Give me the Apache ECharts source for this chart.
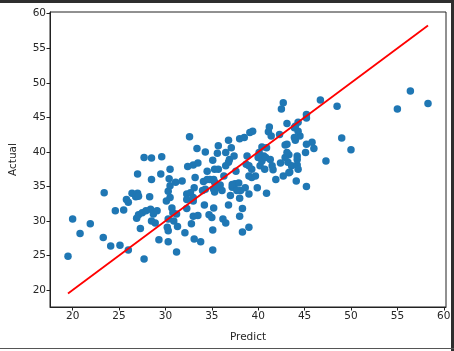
<!DOCTYPE html>
<html>
<head>
<meta charset="utf-8">
<script src="https://cdn.jsdelivr.net/npm/echarts@6/dist/echarts.min.js"></script>
<style>
  html, body { margin: 0; padding: 0; background: #fff; }
  #chart { position: absolute; left: 0; top: 0; width: 454px; height: 351px; }
  .edge { position: absolute; background: #2e2e2e; }
</style>
</head>
<body>
<div id="chart"></div>
<div class="edge" style="left:0;top:0;width:454px;height:3px;"></div>
<div class="edge" style="left:451px;top:0;width:3px;height:351px;"></div>
<div class="edge" style="left:0;top:348px;width:454px;height:1px;background:#555;"></div>
<script>
// predicted vs actual values
const predicted = [
  19.5, 20.0, 20.8, 21.9, 23.3, 23.4, 24.1, 24.6, 25.1, 25.5,
  25.8, 26.0, 26.0, 26.4, 26.8, 27.0, 27.1, 27.0, 26.9, 27.1,
  27.3, 27.7, 27.7, 27.5, 27.9, 28.3, 28.5, 28.5, 28.4, 28.5,
  28.7, 29.1, 29.3, 29.5, 29.6, 28.9, 30.1, 30.3, 30.3, 30.3,
  30.3, 30.5, 30.5, 30.5, 30.7, 30.8, 30.9, 31.2, 31.3, 31.2,
  31.1, 31.8, 32.1, 32.3, 32.3, 32.4, 32.6, 32.8, 33.0, 33.0,
  33.0, 33.1, 33.1, 33.2, 33.4, 33.5, 33.5, 33.8, 34.0, 34.1,
  34.2, 34.3, 34.5, 34.7, 34.8, 35.1, 35.1, 35.0, 35.1, 35.2,
  35.3, 35.3, 35.3, 35.6, 35.7, 35.9, 36.2, 36.5, 36.3, 36.5,
  36.5, 36.8, 36.8, 36.9, 37.1, 37.2, 37.4, 37.6, 37.5, 37.9,
  38.0, 38.0, 38.1, 38.0, 38.3, 38.3, 38.5, 38.7, 38.8, 39.0,
  39.0, 39.0, 39.1, 39.4, 39.9, 40.1, 40.2, 40.4, 40.6, 40.7,
  40.9, 41.1, 41.2, 41.3, 41.4, 41.6, 41.9, 42.3, 42.4, 42.5,
  42.7, 42.7, 42.9, 43.1, 43.2, 43.3, 43.4, 43.6, 43.9, 44.0,
  44.1, 44.2, 44.2, 44.3, 44.5, 45.2, 45.2, 45.1, 45.2, 45.8,
  46.0, 46.7, 47.3, 48.5, 49.0, 50.0, 55.0, 56.4, 58.3,
  36.8, 35.7, 35.2, 32.7, 32.3, 33.0, 34.5, 34.3, 35.2, 35.6,
  36.1, 37.2, 37.0, 37.7, 38.6, 39.3, 39.7, 40.0, 40.4, 40.8,
  40.9, 39.0, 39.3, 41.5, 42.9, 43.1, 43.3, 44.0, 44.3, 43.9,
  45.2, 43.1, 44.3, 44.2, 30.4, 30.2
];
const actual = [
  24.9, 30.3, 28.2, 29.6, 27.6, 34.1, 26.4, 31.5, 26.5, 31.6,
  33.1, 32.7, 25.8, 34.0, 33.5, 34.0, 33.6, 36.8, 30.4, 30.9,
  28.9, 39.2, 24.5, 31.2, 31.5, 33.5, 39.1, 36.0, 31.7, 30.0,
  31.0, 31.5, 27.3, 36.8, 39.3, 29.7, 32.9, 34.3, 30.3, 28.6,
  27.0, 37.5, 35.1, 33.4, 31.9, 31.2, 30.0, 25.5, 29.2, 31.0,
  35.6, 35.8, 28.3, 31.8, 33.9, 37.9, 42.2, 29.6, 38.1, 30.7,
  32.9, 27.4, 34.8, 36.3, 40.5, 38.4, 30.8, 27.0, 34.4, 35.7,
  32.3, 40.0, 37.2, 30.9, 36.0, 28.7, 25.8, 30.5, 38.8, 31.9,
  34.2, 37.5, 35.6, 39.8, 40.9, 35.2, 30.3, 29.7, 36.5, 38.0,
  39.9, 32.3, 41.7, 38.9, 40.6, 34.9, 39.4, 37.2, 35.4, 35.5,
  33.3, 41.9, 34.4, 30.7, 31.8, 28.4, 42.1, 38.2, 39.4, 36.5,
  33.9, 29.1, 42.8, 43.0, 34.8, 39.9, 38.0, 40.7, 39.4, 37.5,
  34.0, 42.9, 43.6, 38.9, 42.3, 37.4, 36.0, 42.5, 38.4, 46.2,
  47.1, 36.5, 41.0, 44.1, 38.5, 39.6, 37.1, 38.0, 43.5, 41.7,
  35.8, 39.4, 38.1, 44.3, 42.3, 45.4, 44.9, 39.9, 35.0, 41.4,
  40.5, 47.5, 38.7, 46.6, 42.0, 40.3, 46.2, 48.8, 47.0,
  38.5, 37.5, 36.0, 34.1, 33.1, 33.4, 36.0, 34.6, 34.6, 34.8,
  34.4, 35.3, 33.7, 34.4, 34.8, 36.3, 36.5, 39.2, 38.7, 39.2,
  40.6, 38.0, 37.5, 38.0, 39.2, 39.9, 37.0, 43.7, 43.0, 42.1,
  41.1, 41.1, 37.5, 38.9, 36.1, 29.1
];
// reference line y = x over the predicted range
const lineX = [19.5, 58.3];
const tickValues = [20, 25, 30, 35, 40, 45, 50, 55, 60];

const points = predicted.map((p, i) => [p, actual[i]]);
const linePts = lineX.map(v => [v, v]);

const chart = echarts.init(document.getElementById('chart'));

const axisCommon = {
  type: 'value',
  min: 17.56,
  max: 60.24,
  splitLine: { show: false },
  axisLine: { show: true, onZero: false, lineStyle: { color: '#222', width: 1 } },
  axisTick: {
    show: true,
    inside: false,
    length: 3.5,
    customValues: tickValues,
    lineStyle: { color: '#222', width: 1 }
  },
  axisLabel: {
    customValues: tickValues,
    color: '#262626',
    fontFamily: 'DejaVu Sans',
    fontSize: 10.5,
    margin: 4
  },
  nameLocation: 'middle',
  nameTextStyle: { color: '#262626', fontFamily: 'DejaVu Sans', fontSize: 10.5 }
};

const option = {
  animation: false,
  backgroundColor: '#fff',
  grid: {
    left: 50,
    right: 8,
    top: 12,
    bottom: 44,
    show: true,
    borderColor: '#222',
    borderWidth: 1,
    outerBoundsMode: 'none'
  },
  xAxis: Object.assign({}, axisCommon, { name: 'Predict', nameGap: 25 }),
  yAxis: Object.assign({}, axisCommon, { name: 'Actual', nameGap: 31 }),
  series: [
    {
      type: 'scatter',
      data: points,
      symbolSize: 7.5,
      itemStyle: { color: '#1f77b4', opacity: 1 }
    },
    {
      type: 'line',
      data: linePts,
      symbol: 'none',
      lineStyle: { color: '#ff0000', width: 1.8 }
    }
  ]
};

chart.setOption(option);
</script>
</body>
</html>
